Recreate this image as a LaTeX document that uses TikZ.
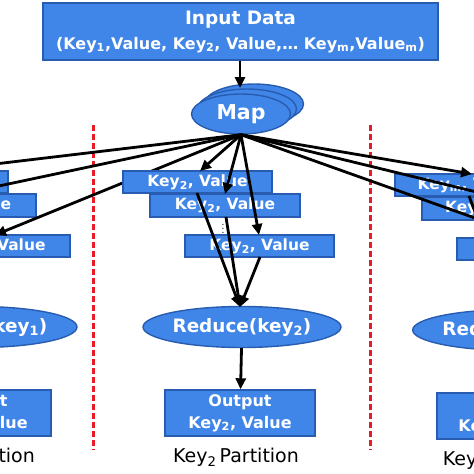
\documentclass[tikz,border=0pt]{standalone}
\usepackage{fontspec}
\setmainfont{DejaVu Sans}
\usetikzlibrary{shapes.geometric,arrows.meta,positioning}
\definecolor{boxblue}{RGB}{64,134,232}
\definecolor{edgeblue}{RGB}{40,92,176}
\definecolor{partred}{RGB}{232,28,36}

\tikzset{
  kvbox/.style={draw=edgeblue, line width=1.4pt, fill=boxblue, text=white,
    inner sep=0pt, font=\bfseries\fontsize{15.5}{17}\selectfont},
  blob/.style={ellipse, draw=edgeblue, line width=1.4pt, fill=boxblue,
    text=white, inner sep=0pt},
  arr/.style={line width=2.8pt, -{Triangle[length=11pt,width=10pt]}},
  partline/.style={partred, line width=3pt, dash pattern=on 6pt off 3pt}
}

\begin{document}
\begin{tikzpicture}[x=1pt,y=-1pt]
\clip (0,0) rectangle (474,474);

% input and map
\node[kvbox, minimum width=395, minimum height=57, align=center,
  font=\bfseries\fontsize{16}{25}\selectfont] (input) at (240.5,31.5)%
{{\fontsize{18.5}{25}\selectfont Input Data}\\(Key\textsubscript{1},Value, Key\textsubscript{2}, Value,\dots\ Key\textsubscript{m},Value\textsubscript{m})};
\node[blob, minimum width=99, minimum height=40] (mapc) at (254,104) {};
\node[blob, minimum width=99, minimum height=40] (mapb) at (247,109) {};
\node[blob, minimum width=99, minimum height=40,
  font=\bfseries\fontsize{20.5}{22}\selectfont] (map) at (241,114) {Map};
\coordinate (mapin) at (240,88);
\draw[arr] (input.south -| mapin) -- (mapin);

% partition borders
\draw[partline] (93,125) -- (93,450);
\draw[partline] (370,125) -- (370,450);

% one column per key
\foreach \dx/\dy/\k in {-264/0/1, 0/0/2, 272/3/m} {
\begin{scope}[shift={(\dx,\dy)}]
\node[kvbox, minimum width=149, minimum height=22] (kva\k) at (197.5,182)%
{Key\textsubscript{\k}, Value};
\node[kvbox, minimum width=150, minimum height=23] (kvb\k) at (225,205.5)%
{Key\textsubscript{\k}, Value};
\node[inner sep=0pt, font=\fontsize{9}{9}\selectfont] (dots\k) at (223,226) {$\vdots$};
\node[kvbox, minimum width=149, minimum height=22] (kvc\k) at (259.5,246)%
{Key\textsubscript{\k}, Value};
\node[blob, minimum width=198, minimum height=41,
  font=\bfseries\fontsize{18.4}{20}\selectfont] (red\k) at (242,327)%
{Reduce(key\textsubscript{\k})};
\node[kvbox, minimum width=150, minimum height=46, align=center,
  font=\bfseries\fontsize{16}{22}\selectfont] (out\k) at (240,413)%
{Output\\Key\textsubscript{\k}, Value};
\node[font=\fontsize{19}{20}\selectfont] (part\k) at (236,457)%
{Key\textsubscript{\k}\,Partition};
\coordinate (ina\k) at (200,171);
\coordinate (inb\k) at (225,194);
\coordinate (inc\k) at (259,235);
\coordinate (outa\k) at (197,193);
\coordinate (outb\k) at (226,217);
\coordinate (outc\k) at (260,257);
\coordinate (inred\k) at (240,307);
\end{scope}
\draw[arr] (map.south) -- (ina\k);
\draw[arr] (map.south) -- (inb\k);
\draw[arr] (map.south) -- (inc\k);
\draw[arr] (outa\k) -- (inred\k);
\draw[arr] (outb\k) -- (inred\k);
\draw[arr] (outc\k) -- (inred\k);
\draw[arr] (red\k) -- (out\k);
}
\end{tikzpicture}
\end{document}
